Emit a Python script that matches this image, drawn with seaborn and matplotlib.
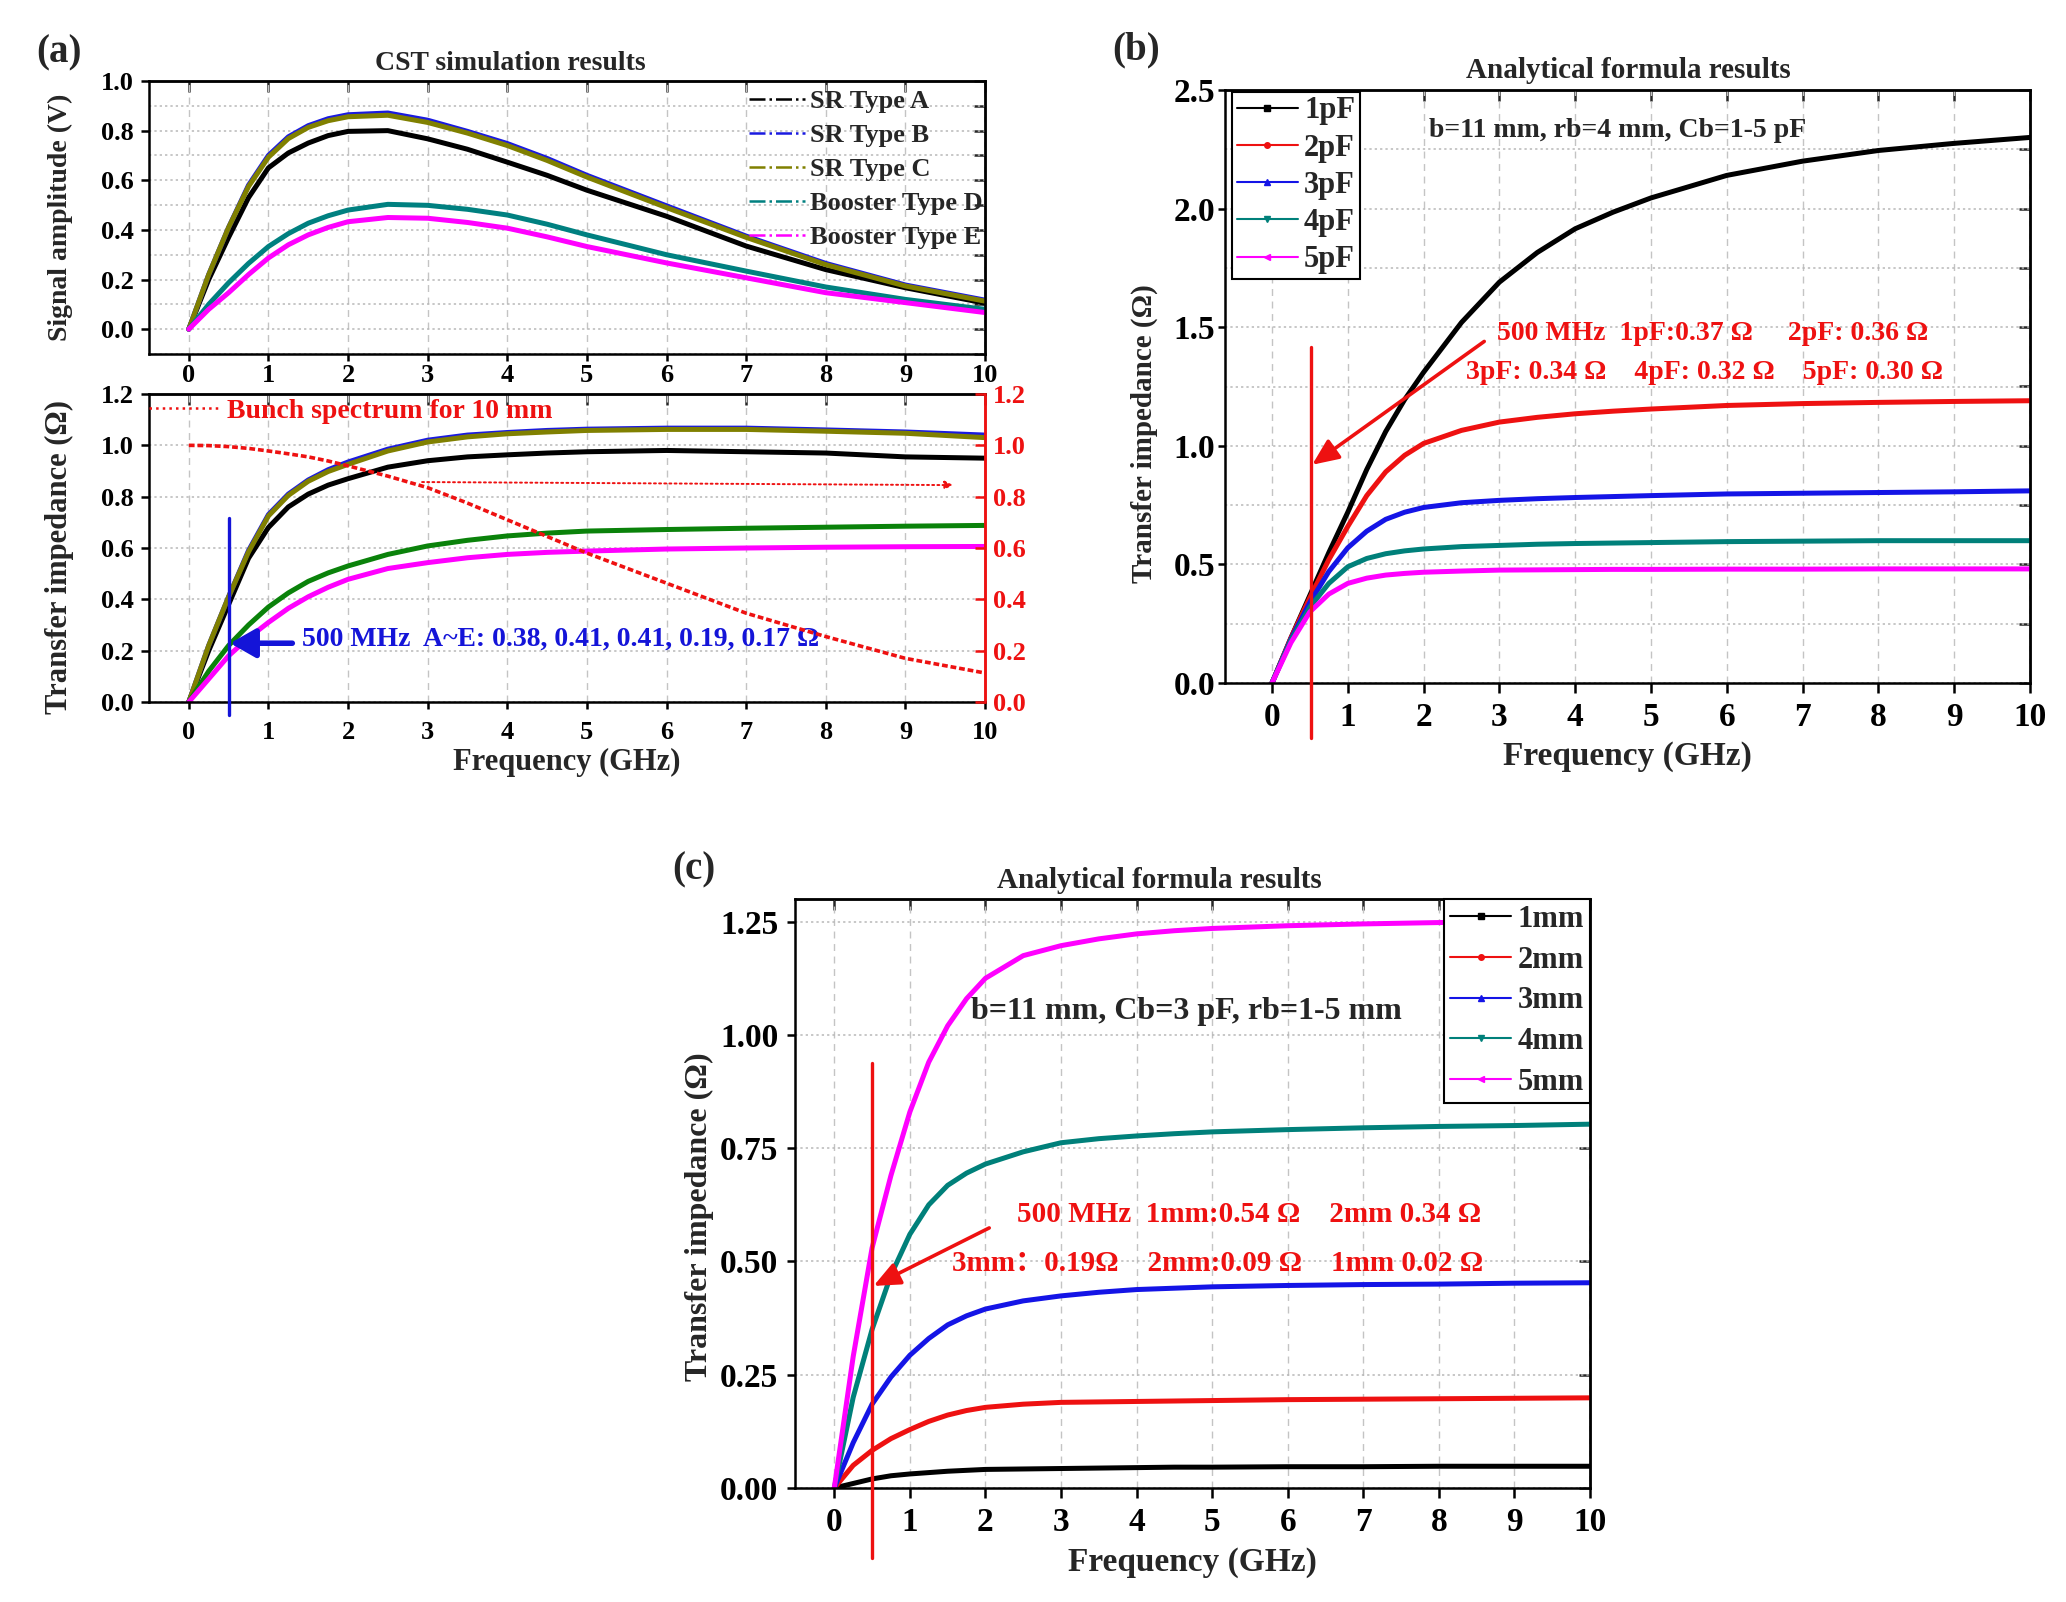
import numpy as np
import pandas as pd
import matplotlib
matplotlib.use('Agg')
import matplotlib.pyplot as plt
from matplotlib.lines import Line2D
from matplotlib.ticker import MultipleLocator, FormatStrFormatter
import seaborn as sns

# frequency grid (GHz) shared by every curve
freq = [0, 0.25, 0.5, 0.75, 1, 1.25, 1.5, 1.75, 2, 2.5, 3, 3.5, 4, 4.5, 5, 6, 7, 8, 9, 10]

# (a) top - CST signal amplitude (V)
sig_names = ['SR Type A', 'SR Type B', 'SR Type C', 'Booster Type D', 'Booster Type E']
sig_A = [0, 0.2, 0.37, 0.53, 0.65, 0.71, 0.75, 0.78, 0.797, 0.80, 0.767, 0.725, 0.673, 0.62, 0.56, 0.455, 0.335, 0.24, 0.167, 0.105]
sig_B = [0, 0.22, 0.41, 0.58, 0.70, 0.775, 0.82, 0.848, 0.864, 0.871, 0.842, 0.797, 0.748, 0.688, 0.62, 0.497, 0.375, 0.265, 0.178, 0.117]
sig_C = [0, 0.22, 0.41, 0.575, 0.693, 0.768, 0.813, 0.84, 0.856, 0.862, 0.833, 0.79, 0.74, 0.68, 0.613, 0.49, 0.37, 0.26, 0.174, 0.113]
sig_D = [0, 0.1, 0.187, 0.265, 0.333, 0.385, 0.427, 0.457, 0.48, 0.503, 0.499, 0.483, 0.46, 0.423, 0.38, 0.30, 0.234, 0.17, 0.12, 0.08]
sig_E = [0, 0.08, 0.147, 0.22, 0.287, 0.34, 0.38, 0.41, 0.433, 0.45, 0.447, 0.43, 0.407, 0.372, 0.333, 0.267, 0.207, 0.147, 0.107, 0.067]
sig_colors = ['#000000', '#1a1ae0', '#808000', '#008080', '#ff00ff']

# (a) bottom - CST transfer impedance (Ohm) + bunch spectrum (right axis)
zt_A = [0, 0.2, 0.38, 0.56, 0.68, 0.76, 0.81, 0.845, 0.87, 0.915, 0.94, 0.955, 0.963, 0.97, 0.975, 0.98, 0.975, 0.97, 0.955, 0.95]
zt_B = [0, 0.22, 0.41, 0.59, 0.73, 0.81, 0.865, 0.905, 0.935, 0.985, 1.02, 1.04, 1.05, 1.058, 1.063, 1.067, 1.067, 1.06, 1.052, 1.04]
zt_C = [0, 0.22, 0.41, 0.585, 0.725, 0.805, 0.86, 0.898, 0.926, 0.978, 1.013, 1.033, 1.045, 1.052, 1.058, 1.062, 1.062, 1.055, 1.047, 1.03]
zt_D = [0, 0.12, 0.22, 0.30, 0.37, 0.425, 0.47, 0.503, 0.53, 0.575, 0.608, 0.63, 0.647, 0.658, 0.666, 0.672, 0.677, 0.681, 0.685, 0.688]
zt_E = [0, 0.09, 0.18, 0.25, 0.31, 0.365, 0.41, 0.447, 0.478, 0.52, 0.543, 0.562, 0.575, 0.583, 0.588, 0.596, 0.60, 0.603, 0.605, 0.606]
zt_colors = ['#000000', '#1a1ae0', '#808000', '#0a820a', '#ff00ff']
bunch = [1.0, 0.999, 0.995, 0.988, 0.978, 0.967, 0.955, 0.939, 0.92, 0.88, 0.835, 0.775, 0.71, 0.645, 0.58, 0.463, 0.346, 0.255, 0.17, 0.113]

# (b) analytical, Cb = 1-5 pF
pf_names = ['1pF', '2pF', '3pF', '4pF', '5pF']
pf_1 = [0, 0.19, 0.37, 0.55, 0.72, 0.90, 1.06, 1.195, 1.31, 1.52, 1.69, 1.815, 1.915, 1.985, 2.045, 2.14, 2.20, 2.245, 2.275, 2.30]
pf_2 = [0, 0.19, 0.36, 0.52, 0.66, 0.79, 0.89, 0.96, 1.01, 1.065, 1.10, 1.12, 1.135, 1.146, 1.155, 1.17, 1.178, 1.183, 1.187, 1.19]
pf_3 = [0, 0.185, 0.34, 0.47, 0.57, 0.64, 0.69, 0.72, 0.74, 0.76, 0.77, 0.777, 0.782, 0.786, 0.79, 0.797, 0.80, 0.803, 0.806, 0.81]
pf_4 = [0, 0.18, 0.32, 0.42, 0.49, 0.525, 0.545, 0.557, 0.565, 0.575, 0.58, 0.585, 0.588, 0.59, 0.592, 0.596, 0.598, 0.60, 0.60, 0.60]
pf_5 = [0, 0.17, 0.30, 0.375, 0.42, 0.442, 0.455, 0.462, 0.467, 0.472, 0.476, 0.477, 0.478, 0.479, 0.479, 0.48, 0.48, 0.481, 0.481, 0.481]

# (c) analytical, rb = 1-5 mm
mm_names = ['1mm', '2mm', '3mm', '4mm', '5mm']
mm_1 = [0, 0.01, 0.02, 0.027, 0.031, 0.034, 0.037, 0.039, 0.041, 0.042, 0.043, 0.044, 0.045, 0.046, 0.046, 0.047, 0.047, 0.048, 0.048, 0.048]
mm_2 = [0, 0.05, 0.083, 0.109, 0.129, 0.147, 0.161, 0.171, 0.178, 0.185, 0.189, 0.19, 0.191, 0.192, 0.193, 0.195, 0.196, 0.197, 0.198, 0.199]
mm_3 = [0, 0.1, 0.185, 0.245, 0.293, 0.33, 0.36, 0.38, 0.395, 0.413, 0.424, 0.432, 0.438, 0.441, 0.444, 0.447, 0.449, 0.45, 0.452, 0.453]
mm_4 = [0, 0.2, 0.35, 0.47, 0.56, 0.625, 0.668, 0.695, 0.715, 0.742, 0.762, 0.771, 0.777, 0.782, 0.786, 0.791, 0.795, 0.798, 0.80, 0.803]
mm_5 = [0, 0.29, 0.53, 0.69, 0.83, 0.94, 1.02, 1.08, 1.125, 1.175, 1.197, 1.212, 1.223, 1.23, 1.235, 1.241, 1.245, 1.248, 1.251, 1.253]

ana_colors = ['#000000', '#ee1111', '#1414e6', '#00807a', '#ff00ff']
ana_markers = ['s', 'o', '^', 'v', '<']

RED = '#ee1111'
BLUE = '#1414d8'
MARK_F = 0.5   # 500 MHz marker line

sns.set_theme(style='white')
plt.rcParams['font.family'] = ['Liberation Serif', 'Noto Sans CJK SC', 'DejaVu Sans']
plt.rcParams['font.weight'] = 'bold'
plt.rcParams['axes.labelweight'] = 'bold'
plt.rcParams['mathtext.default'] = 'regular'

W, H = 2066, 1602
fig = plt.figure(figsize=(W / 100, H / 100), dpi=100)


def rect(l, t, r, b):
    return [l / W, 1 - b / H, (r - l) / W, (b - t) / H]


def draw(ax, series, names, colors, lw=3.6):
    df = pd.DataFrame({
        'f': np.tile(freq, len(names)),
        'v': np.concatenate(series),
        'name': np.repeat(names, len(freq)),
    })
    sns.lineplot(data=df, x='f', y='v', hue='name', hue_order=names,
                 palette=dict(zip(names, colors)), linewidth=lw,
                 estimator=None, sort=True, legend=False, ax=ax)


def style(ax, xlim, ylim, ymaj, ymin, fmt, fs, xlen, xpad, ylen, ypad):
    ax.set_xlim(xlim)
    ax.set_ylim(ylim)
    ax.xaxis.set_major_locator(MultipleLocator(1))
    ax.yaxis.set_major_locator(MultipleLocator(ymaj))
    ax.yaxis.set_major_formatter(FormatStrFormatter(fmt))
    if ymin:
        ax.yaxis.set_minor_locator(MultipleLocator(ymin))
    ax.grid(True, axis='x', which='major', ls=(0, (5, 4)), color='#c4c4c4', lw=1.0)
    ax.grid(True, axis='y', which='both', ls=(0, (1.5, 2)), color='#b8b8b8', lw=1.1)
    for s in ax.spines.values():
        s.set_visible(True)
        s.set_color('black')
        s.set_linewidth(1.8)
    ax.tick_params(axis='x', which='major', direction='out', length=xlen, width=1.8,
                   pad=xpad, labelsize=fs, bottom=True, colors='black')
    ax.tick_params(axis='y', which='major', direction='out', length=ylen, width=1.8,
                   pad=ypad, labelsize=fs, left=True, colors='black')
    ax.tick_params(which='minor', length=0)
    ax.set_xlabel('')
    ax.set_ylabel('')
    # inward ticks on the top and right frame
    sx = ax.secondary_xaxis('top')
    sx.xaxis.set_major_locator(MultipleLocator(1))
    sx.tick_params(axis='x', direction='in', length=8, width=1.8, top=True,
                   labeltop=False, bottom=False, labelbottom=False)
    sx.spines['top'].set_linewidth(1.8)
    sy = ax.secondary_yaxis('right')
    sy.yaxis.set_major_locator(MultipleLocator(ymin if ymin else ymaj))
    sy.tick_params(axis='y', direction='in', length=8, width=1.8, right=True,
                   labelright=False, left=False, labelleft=False)
    sy.spines['right'].set_linewidth(1.8)
    return sy


def bold_legend(leg, color=None):
    for t in leg.get_texts():
        t.set_fontweight('bold')
        if color:
            t.set_color(color)


# ---------------- (a) top ----------------
ax1 = fig.add_axes(rect(149, 81, 985, 354))
draw(ax1, [sig_A, sig_B, sig_C, sig_D, sig_E], sig_names, sig_colors)
style(ax1, (-0.5, 10), (-0.1, 1.0), 0.2, 0.1, '%.1f', 19, 5, 2, 6, 5)
ax1.set_ylabel('Signal amplitude (V)', fontsize=20)
ax1.yaxis.set_label_coords(-0.091, 0.5)
handles = [Line2D([], [], color=c, lw=1.8, ls='-.') for c in sig_colors]
leg1 = ax1.legend(handles, sig_names, loc='upper left', bbox_to_anchor=(0.718, 0.968),
                  frameon=False, fontsize=19, handlelength=2.1, handletextpad=0.2,
                  labelspacing=0.4, borderaxespad=0, borderpad=0)
bold_legend(leg1)

# ---------------- (a) bottom ----------------
ax2 = fig.add_axes(rect(149, 394, 985, 702))
draw(ax2, [zt_A, zt_B, zt_C, zt_D, zt_E], sig_names, zt_colors)
sy2 = style(ax2, (-0.5, 10), (0, 1.2), 0.2, None, '%.1f', 19, 5, 9, 6, 5)
sy2.set_visible(False)
ax2.spines['right'].set_color(RED)
ax2.set_xlabel('Frequency (GHz)', fontsize=22)
ax2.xaxis.set_label_coords(0.5, -0.15)
ax2.set_ylabel('Transfer impedance (Ω)', fontsize=22)
ax2.yaxis.set_label_coords(-0.09, 0.47)

ax2r = ax2.twinx()
bdf = pd.DataFrame({'f': freq, 'v': bunch})
sns.lineplot(data=bdf, x='f', y='v', color=RED, lw=2.6, ls=(0, (1.6, 0.8)),
             estimator=None, ax=ax2r)
ax2r.set_ylim(0, 1.2)
ax2r.set_ylabel('')
ax2r.yaxis.set_major_locator(MultipleLocator(0.2))
ax2r.yaxis.set_major_formatter(FormatStrFormatter('%.1f'))
ax2r.tick_params(axis='y', direction='in', length=7, width=1.8, right=True,
                 labelright=True, colors=RED, labelsize=19, pad=6)
for k, s in ax2r.spines.items():
    s.set_visible(k == 'right')
ax2r.spines['right'].set_color(RED)
ax2r.spines['right'].set_linewidth(1.8)
ax2r.grid(False)
ax2r.annotate('', xy=(9.6, 0.845), xytext=(2.93, 0.857),
              arrowprops=dict(arrowstyle='-|>', color=RED, lw=1.4, ls=':',
                              mutation_scale=12, shrinkA=0, shrinkB=0))

bleg = ax2.legend([Line2D([], [], color=RED, lw=1.8, ls=':')], ['Bunch spectrum for 10 mm'],
                  loc='upper left', bbox_to_anchor=(0.0, 0.985), frameon=False,
                  fontsize=20, handlelength=2.5, handletextpad=0.3, borderaxespad=0, borderpad=0)
bold_legend(bleg, RED)

ax2.plot([MARK_F, MARK_F], [-0.05, 0.715], color=BLUE, lw=2.4, clip_on=False, zorder=5)
ax2.annotate('', xy=(MARK_F + 0.02, 0.229), xytext=(1.3, 0.229),
             arrowprops=dict(arrowstyle='-|>,head_length=0.7,head_width=0.4', color=BLUE,
                             lw=4, mutation_scale=22, shrinkA=0, shrinkB=0), zorder=6)
ax2.text(1.42, 0.245, '500 MHz  A~E: 0.38, 0.41, 0.41, 0.19, 0.17 Ω', color=BLUE,
         fontsize=20, fontweight='bold', va='center', ha='left', zorder=6)

fig.text(510 / W, 1 - 63 / H, 'CST simulation results', fontsize=20, fontweight='bold',
         ha='center', va='center')
fig.text(59 / W, 1 - 53 / H, '(a)', fontsize=28, fontweight='bold', ha='center', va='center')

# ---------------- (b) ----------------
ax3 = fig.add_axes(rect(1225, 90, 2030, 683))
draw(ax3, [pf_1, pf_2, pf_3, pf_4, pf_5], pf_names, ana_colors)
style(ax3, (-0.62, 10), (0, 2.5), 0.5, 0.25, '%.1f', 24, 7, 7, 5, 2)
ax3.set_xlabel('Frequency (GHz)', fontsize=24)
ax3.xaxis.set_label_coords(0.5, -0.098)
ax3.set_ylabel('Transfer impedance (Ω)', fontsize=21)
ax3.yaxis.set_label_coords(-0.083, 0.42)
h3 = [Line2D([], [], color=c, lw=1.5, marker=m, ms=4) for c, m in zip(ana_colors, ana_markers)]
leg3 = ax3.legend(h3, pf_names, loc='upper left', bbox_to_anchor=(0.009, 0.997), fontsize=22,
                  frameon=True, fancybox=False, edgecolor='black', framealpha=1,
                  handlelength=2.0, handletextpad=0.2, labelspacing=0.27,
                  borderaxespad=0, borderpad=0.15)
leg3.get_frame().set_linewidth(1.5)
bold_legend(leg3)
ax3.text(2.07, 2.33, 'b=11 mm, rb=4 mm, Cb=1-5 pF', fontsize=20, fontweight='bold',
         va='center', ha='left')
ax3.text(2.97, 1.475, '500 MHz  1pF:0.37 Ω     2pF: 0.36 Ω', fontsize=20, fontweight='bold',
         color=RED, va='center', ha='left')
ax3.text(2.56, 1.307, '3pF: 0.34 Ω    4pF: 0.32 Ω    5pF: 0.30 Ω', fontsize=20,
         fontweight='bold', color=RED, va='center', ha='left')
ax3.plot([0.515, 0.515], [-0.23, 1.415], color=RED, lw=2.4, clip_on=False, zorder=5)
ax3.annotate('', xy=(0.53, 0.92), xytext=(2.8, 1.44),
             arrowprops=dict(arrowstyle='-|>,head_length=0.8,head_width=0.35', color=RED,
                             lw=2.6, mutation_scale=20, shrinkA=0, shrinkB=0), zorder=6)
fig.text(1628 / W, 1 - 71 / H, 'Analytical formula results', fontsize=21, fontweight='bold',
         ha='center', va='center')
fig.text(1136 / W, 1 - 50 / H, '(b)', fontsize=28, fontweight='bold', ha='center', va='center')

# ---------------- (c) ----------------
ax4 = fig.add_axes(rect(795, 899, 1590, 1488))
draw(ax4, [mm_1, mm_2, mm_3, mm_4, mm_5], mm_names, ana_colors)
style(ax4, (-0.52, 10), (0, 1.3), 0.25, None, '%.2f', 24, 7, 7, 6, 6)
ax4.set_xlabel('Frequency (GHz)', fontsize=24)
ax4.xaxis.set_label_coords(0.5, -0.1)
ax4.set_ylabel('Transfer impedance (Ω)', fontsize=23)
ax4.yaxis.set_label_coords(-0.102, 0.46)
h4 = [Line2D([], [], color=c, lw=1.5, marker=m, ms=4) for c, m in zip(ana_colors, ana_markers)]
leg4 = ax4.legend(h4, mm_names, loc='upper right', bbox_to_anchor=(1.0, 1.0), fontsize=22,
                  frameon=True, fancybox=False, edgecolor='black', framealpha=1,
                  handlelength=2.0, handletextpad=0.2, labelspacing=0.38,
                  borderaxespad=0, borderpad=0.2)
leg4.get_frame().set_linewidth(1.5)
leg4.set_zorder(10)
bold_legend(leg4)
ax4.text(1.81, 1.052, 'b=11 mm, Cb=3 pF, rb=1-5 mm', fontsize=23, fontweight='bold',
         va='center', ha='left')
ax4.text(2.42, 0.604, '500 MHz  1mm:0.54 Ω    2mm 0.34 Ω', fontsize=21, fontweight='bold',
         color=RED, va='center', ha='left')
ax4.text(1.56, 0.496, '3mm：0.19Ω    2mm:0.09 Ω    1mm 0.02 Ω', fontsize=21,
         fontweight='bold', color=RED, va='center', ha='left')
ax4.plot([MARK_F, MARK_F], [-0.155, 0.938], color=RED, lw=2.4, clip_on=False, zorder=5)
ax4.annotate('', xy=(0.52, 0.446), xytext=(2.05, 0.574),
             arrowprops=dict(arrowstyle='-|>,head_length=0.8,head_width=0.35', color=RED,
                             lw=2.6, mutation_scale=20, shrinkA=0, shrinkB=0), zorder=6)
fig.text(1159 / W, 1 - 880 / H, 'Analytical formula results', fontsize=21, fontweight='bold',
         ha='center', va='center')
fig.text(694 / W, 1 - 870 / H, '(c)', fontsize=28, fontweight='bold', ha='center', va='center')

fig.savefig('out.png', dpi=100, facecolor='white')
